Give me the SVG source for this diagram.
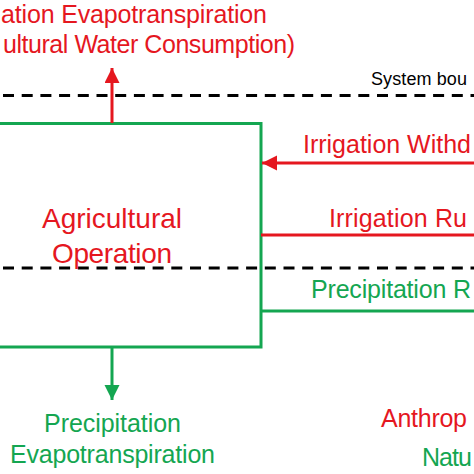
<svg xmlns="http://www.w3.org/2000/svg" width="474" height="474" viewBox="0 0 474 474">
<style>
text{font-family:"Liberation Sans",Arial,sans-serif}
.t{font-size:25px}
.big{font-size:28px}
.small{font-size:18px}
.r{fill:#e5171f}
.g{fill:#14a651}
.k{fill:#000}
.rl{stroke:#e5171f;stroke-width:3;fill:none}
.gl{stroke:#14a651;stroke-width:3;fill:none}
.dash{stroke:#000;stroke-width:3;stroke-dasharray:11 7.7;fill:none}
</style>
<defs>
<marker id="ar" markerUnits="userSpaceOnUse" markerWidth="16" markerHeight="16" refX="15" refY="7.5" orient="auto">
<path d="M0,0 L15,7.5 L0,15 Z" fill="#e5171f"/>
</marker>
<marker id="ag" markerUnits="userSpaceOnUse" markerWidth="16" markerHeight="16" refX="15" refY="7.5" orient="auto">
<path d="M0,0 L15,7.5 L0,15 Z" fill="#14a651"/>
</marker>
</defs>
<rect width="474" height="474" fill="#fff"/>
<g id="boundaries">
<line class="dash" x1="3" y1="95.5" x2="474" y2="95.5"/>
<line class="dash" x1="3" y1="268" x2="474" y2="268"/>
</g>
<g id="agricultural-operation">
<path class="gl" d="M-5,123.5 H261 V347 H-5"/>
<text class="r big" x="112" y="228" text-anchor="middle" textLength="140">Agricultural</text>
<text class="r big" x="112" y="263" text-anchor="middle" textLength="120">Operation</text>
</g>
<g id="connectors">
<line class="rl" x1="112" y1="123" x2="112" y2="68" marker-end="url(#ar)"/>
<line class="gl" x1="112" y1="347" x2="112" y2="400" marker-end="url(#ag)"/>
<line class="rl" x1="476" y1="163" x2="262" y2="163" marker-end="url(#ar)"/>
<line class="rl" x1="261" y1="235" x2="476" y2="235"/>
<line class="gl" x1="261" y1="311" x2="476" y2="311"/>
</g>
<g id="label-irrigation-et">
<text class="r t" x="1" y="23" textLength="266">ation Evapotranspiration</text>
<text class="r t" x="3" y="53" textLength="292">ultural Water Consumption)</text>
</g>
<g id="label-system-boundary">
<text class="k small" x="371" y="85" textLength="96">System bou</text>
</g>
<g id="label-irrigation-withdrawal">
<text class="r t" x="303" y="153" textLength="168">Irrigation Withd</text>
</g>
<g id="label-irrigation-runoff">
<text class="r t" x="329" y="227" textLength="138">Irrigation Ru</text>
</g>
<g id="label-precipitation-runoff">
<text class="g t" x="311" y="298" textLength="160">Precipitation R</text>
</g>
<g id="label-precipitation-et">
<text class="g t" x="112.5" y="432" text-anchor="middle" textLength="137">Precipitation</text>
<text class="g t" x="112.5" y="463" text-anchor="middle" textLength="205">Evapotranspiration</text>
</g>
<g id="legend">
<text class="r t" x="381" y="427" textLength="86">Anthrop</text>
<text class="g t" x="422" y="466" textLength="50">Natu</text>
</g>
</svg>
